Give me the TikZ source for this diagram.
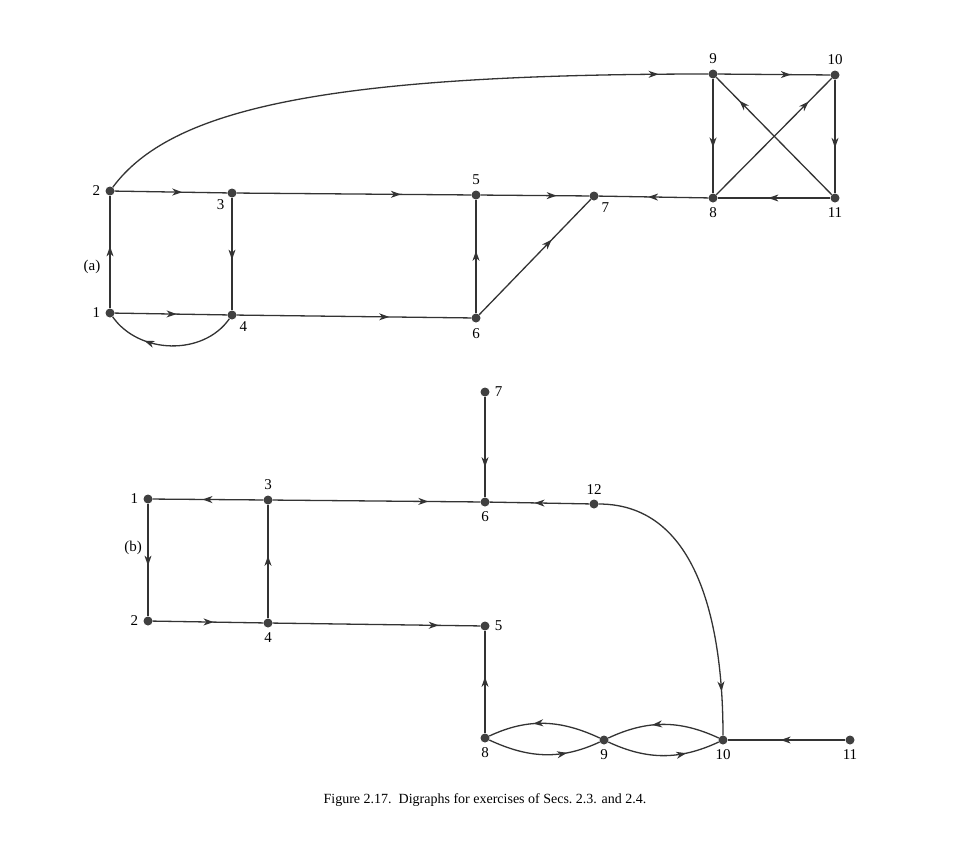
\documentclass[tikz,border=0pt]{standalone}
\usepackage{fontspec}
\setmainfont{Liberation Serif}
\usetikzlibrary{decorations.markings,arrows.meta,positioning}
\begin{document}
\begin{tikzpicture}[x=1pt,y=1pt,
  v/.style={circle,fill=black!75,inner sep=0pt,minimum size=9pt},
  e/.style={line width=1.3pt,draw=black!80},
  marr/.style={postaction={decorate,decoration={markings,mark=at position #1 with {\arrow{Stealth[length=10pt,width=7pt,inset=3pt]}}}}},
  marr/.default=0.55,
  lab/.style={font=\fontsize{15}{15}\selectfont,inner sep=2pt}]
\useasboundingbox (0,0) rectangle (966,-860);
% (a)
\node[v] (a1) at (110,-313) {};
\node[v] (a2) at (110,-191) {};
\node[v] (a3) at (232,-193) {};
\node[v] (a4) at (232,-315) {};
\node[v] (a5) at (476,-195) {};
\node[v] (a6) at (476,-318) {};
\node[v] (a7) at (594,-196) {};
\node[v] (a8) at (713,-198) {};
\node[v] (a9) at (713,-74) {};
\node[v] (a10) at (835,-75) {};
\node[v] (a11) at (835,-198) {};
\node[lab,left=3pt of a1] {1};
\node[lab,left=3pt of a2] {2};
\node[lab,below left=1pt and 2pt of a3] {3};
\node[lab,below right=1pt and 2pt of a4] {4};
\node[lab,above=3pt of a5] {5};
\node[lab,below=4pt of a6] {6};
\node[lab,below right=1pt and 2pt of a7] {7};
\node[lab,below=3pt of a8] {8};
\node[lab,above=3pt of a9] {9};
\node[lab,above=3pt of a10] {10};
\node[lab,below=3pt of a11] {11};
\node[lab] (la) at (92,-267) {(a)};
\draw[e,marr] (a1) -- (a2);
\draw[e,marr=0.6] (a2) -- (a3);
\draw[e,marr=0.7] (a3) -- (a5);
\draw[e,marr=0.7] (a5) -- (a7);
\draw[e,marr] (a3) -- (a4);
\draw[e,marr] (a1) -- (a4);
\draw[e,marr=0.7] (a4) to[out=-125,in=-55] (a1);
\draw[e,marr=0.65] (a4) -- (a6);
\draw[e,marr] (a6) -- (a5);
\draw[e,marr=0.65] (a6) -- (a7);
\draw[e,marr] (a8) -- (a7);
\draw[e,marr] (a11) -- (a8);
\draw[e,marr=0.6] (a9) -- (a8);
\draw[e,marr=0.65] (a9) -- (a10);
\draw[e,marr=0.6] (a10) -- (a11);
\draw[e,marr=0.8] (a11) -- (a9);
\draw[e,marr=0.8] (a8) -- (a10);
\draw[e,marr=0.92] (a2) .. controls (170,-110) and (320,-74) .. (a9);
% (b)
\node[v] (b7) at (485,-392) {};
\node[v] (b6) at (485,-502) {};
\node[v] (b12) at (594,-504) {};
\node[v] (b1) at (148,-499) {};
\node[v] (b3) at (268,-500) {};
\node[v] (b2) at (148,-621) {};
\node[v] (b4) at (268,-623) {};
\node[v] (b5) at (485,-626) {};
\node[v] (b8) at (485,-738) {};
\node[v] (b9) at (604,-740) {};
\node[v] (b10) at (723,-740) {};
\node[v] (b11) at (850,-740) {};
\node[lab,right=3pt of b7] {7};
\node[lab,below=3pt of b6] {6};
\node[lab,above=3pt of b12] {12};
\node[lab,left=3pt of b1] {1};
\node[lab,above=3pt of b3] {3};
\node[lab,left=3pt of b2] {2};
\node[lab,below=3pt of b4] {4};
\node[lab,right=3pt of b5] {5};
\node[lab,below=3pt of b8] {8};
\node[lab,below=3pt of b9] {9};
\node[lab,below=3pt of b10] {10};
\node[lab,below=3pt of b11] {11};
\node[lab] (lb) at (133,-548) {(b)};
\draw[e,marr=0.7] (b7) -- (b6);
\draw[e,marr] (b12) -- (b6);
\draw[e,marr] (b3) -- (b1);
\draw[e,marr=0.75] (b3) -- (b6);
\draw[e,marr] (b1) -- (b2);
\draw[e,marr] (b2) -- (b4);
\draw[e,marr] (b4) -- (b3);
\draw[e,marr=0.8] (b4) -- (b5);
\draw[e,marr] (b8) -- (b5);
\draw[e,marr=0.85] (b12) to[out=0,in=90] (b10);
\draw[e,marr=0.7] (b8) to[out=-25,in=-155] (b9);
\draw[e,marr=0.6] (b9) to[out=155,in=25] (b8);
\draw[e,marr=0.7] (b9) to[out=-25,in=-155] (b10);
\draw[e,marr=0.6] (b10) to[out=155,in=25] (b9);
\draw[e,marr] (b11) -- (b10);
\node[font=\fontsize{14}{14}\selectfont] (cap) at (485,-800) {F\textsc{igure} 2.17.\ \ Digraphs for exercises of Secs.~2.3. and 2.4.};
\end{tikzpicture}
\end{document}
